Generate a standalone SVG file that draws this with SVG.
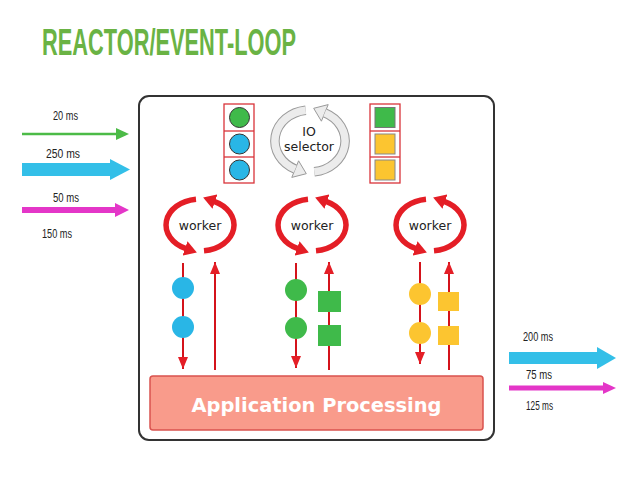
<svg xmlns="http://www.w3.org/2000/svg" width="638" height="479" viewBox="0 0 638 479">
<style>
.lbl{font-family:"Liberation Sans",Arial,sans-serif;font-size:12px;fill:#222}
.wk{font-family:"DejaVu Sans",sans-serif;font-size:12.5px;fill:#222;text-anchor:middle}
.arc{fill:none;stroke:#e41e26;stroke-width:5.5;marker-end:url(#wh)}
.vl{stroke:#d4131b;stroke-width:2;fill:none;marker-end:url(#vh)}
.cy{fill:#29b6e6}.gr{fill:#3fba4a}.ye{fill:#fcc530}
</style>
<defs>
<marker id="wh" markerUnits="userSpaceOnUse" viewBox="0 -8 13 16" markerWidth="13" markerHeight="16" refX="1" refY="0" orient="auto"><path d="M0,-7.5 L12.5,0 L0,7.5 z" fill="#e41e26"/></marker>
<marker id="vh" markerUnits="userSpaceOnUse" viewBox="0 -6 13 12" markerWidth="13" markerHeight="12" refX="12" refY="0" orient="auto"><path d="M0,-5 L12,0 L0,5 z" fill="#e41e26"/></marker>
</defs>
<rect width="638" height="479" fill="#fff"/>
<text x="42" y="55" font-family="Liberation Sans,Arial,sans-serif" font-weight="bold" font-size="37" fill="#6ab344" textLength="254" lengthAdjust="spacingAndGlyphs">REACTOR/EVENT-LOOP</text>

<g id="inputs">
<line x1="22" y1="134" x2="117" y2="134" stroke="#4cbb47" stroke-width="2.5"/>
<polygon points="116,128 129,134 116,140" fill="#4cbb47"/>
<rect x="22" y="163" width="89" height="13" fill="#33bfe8"/>
<polygon points="110,159 130,169.5 110,180" fill="#33bfe8"/>
<rect x="22" y="207" width="94" height="6" fill="#e436c8"/>
<polygon points="115,203 129,210 115,217" fill="#e436c8"/>
<text class="lbl" x="53" y="120" textLength="25" lengthAdjust="spacingAndGlyphs">20 ms</text>
<text class="lbl" x="46" y="158" textLength="34" lengthAdjust="spacingAndGlyphs">250 ms</text>
<text class="lbl" x="53" y="202" textLength="26" lengthAdjust="spacingAndGlyphs">50 ms</text>
<text class="lbl" x="42" y="238" textLength="30" lengthAdjust="spacingAndGlyphs">150 ms</text>
</g>

<g id="outputs">
<rect x="509" y="352" width="89" height="12" fill="#33bfe8"/>
<polygon points="597,347 616,358 597,369" fill="#33bfe8"/>
<rect x="509" y="385.5" width="95" height="5" fill="#e436c8"/>
<polygon points="603,382 616,388 603,394" fill="#e436c8"/>
<text class="lbl" x="523" y="341" textLength="30" lengthAdjust="spacingAndGlyphs">200 ms</text>
<text class="lbl" x="526" y="379" textLength="26" lengthAdjust="spacingAndGlyphs">75 ms</text>
<text class="lbl" x="526" y="410" textLength="27" lengthAdjust="spacingAndGlyphs">125 ms</text>
</g>

<g id="reactor">
<rect x="139" y="96" width="355" height="344" rx="10" fill="#fff" stroke="#333" stroke-width="2"/>
</g>

<g id="queue-left">
<rect x="224" y="104" width="30" height="79" fill="#fff" stroke="#d9343a" stroke-width="1.3"/>
<line x1="224" y1="131" x2="254" y2="131" stroke="#d9343a" stroke-width="1.3"/>
<line x1="224" y1="157" x2="254" y2="157" stroke="#d9343a" stroke-width="1.3"/>
<circle cx="239.5" cy="117.5" r="10" class="gr" stroke="#333" stroke-width="1"/>
<circle cx="239.5" cy="144" r="10" class="cy" stroke="#333" stroke-width="1"/>
<circle cx="239.5" cy="170" r="10" class="cy" stroke="#333" stroke-width="1"/>
</g>

<g id="queue-right">
<rect x="370" y="104" width="30" height="79" fill="#fff" stroke="#d9343a" stroke-width="1.3"/>
<line x1="370" y1="131" x2="400" y2="131" stroke="#d9343a" stroke-width="1.3"/>
<line x1="370" y1="157" x2="400" y2="157" stroke="#d9343a" stroke-width="1.3"/>
<rect x="375" y="107.5" width="20" height="20" class="gr" stroke="#777" stroke-width="1"/>
<rect x="375" y="134" width="20" height="20" class="ye" stroke="#888" stroke-width="1"/>
<rect x="375" y="160" width="20" height="20" class="ye" stroke="#888" stroke-width="1"/>
</g>

<g id="io-selector">
<path d="M305.7,110.2 A35,31 0 0 0 295.2,169.1" fill="none" stroke="#9a9a9a" stroke-width="9.5"/>
<path d="M314.3,171.8 A35,31 0 0 0 324.8,112.9" fill="none" stroke="#9a9a9a" stroke-width="9.5"/>
<polygon points="291.8,177.4 306.3,173.7 298.6,160.8" fill="#ececec" stroke="#9a9a9a" stroke-width="1"/>
<polygon points="328.2,104.6 313.7,108.3 321.4,121.2" fill="#ececec" stroke="#9a9a9a" stroke-width="1"/>
<path d="M305.7,110.2 A35,31 0 0 0 295.2,169.1" fill="none" stroke="#ececec" stroke-width="7.5"/>
<path d="M314.3,171.8 A35,31 0 0 0 324.8,112.9" fill="none" stroke="#ececec" stroke-width="7.5"/>
<text class="wk" x="309" y="136">IO</text>
<text class="wk" x="309" y="151">selector</text>
</g>

<g id="worker-1">
<path class="arc" d="M196,199.2 A34,26 0 0 0 186,248.7"/>
<path class="arc" d="M204,250.8 A34,26 0 0 0 214,201.3"/>
<text class="wk" x="200" y="229.5">worker</text>
</g>
<g id="worker-2">
<path class="arc" d="M308,199.2 A34,26 0 0 0 298,248.7"/>
<path class="arc" d="M316,250.8 A34,26 0 0 0 326,201.3"/>
<text class="wk" x="312" y="229.5">worker</text>
</g>
<g id="worker-3">
<path class="arc" d="M426,199.2 A34,26 0 0 0 416,248.7"/>
<path class="arc" d="M434,250.8 A34,26 0 0 0 444,201.3"/>
<text class="wk" x="430" y="229.5">worker</text>
</g>

<g id="connectors">
<line class="vl" x1="183" y1="263" x2="183" y2="369"/>
<line class="vl" x1="215" y1="370" x2="215" y2="262"/>
<line class="vl" x1="296" y1="263" x2="296" y2="368"/>
<line class="vl" x1="329" y1="370" x2="329" y2="262"/>
<line class="vl" x1="420" y1="262" x2="420" y2="364"/>
<line class="vl" x1="449" y1="370" x2="449" y2="262"/>
</g>

<g id="messages">
<circle cx="183" cy="288" r="11" class="cy"/>
<circle cx="183" cy="327" r="11" class="cy"/>
<circle cx="296" cy="290" r="11" class="gr"/>
<circle cx="296" cy="328" r="11" class="gr"/>
<rect x="318" y="291" width="23" height="21" class="gr"/>
<rect x="318" y="325" width="23" height="21" class="gr"/>
<circle cx="420" cy="294" r="11" class="ye"/>
<circle cx="420" cy="333" r="11" class="ye"/>
<rect x="438" y="292" width="21" height="19" class="ye"/>
<rect x="438" y="326" width="21" height="19" class="ye"/>
</g>

<g id="app-processing">
<rect x="150" y="376" width="333" height="54" rx="3" fill="#f99b8b" stroke="#d9534f" stroke-width="1.5"/>
<text x="316.5" y="412" text-anchor="middle" font-family="DejaVu Sans,sans-serif" font-weight="bold" font-size="20" fill="#fff" textLength="250" lengthAdjust="spacingAndGlyphs">Application Processing</text>
</g>
</svg>
